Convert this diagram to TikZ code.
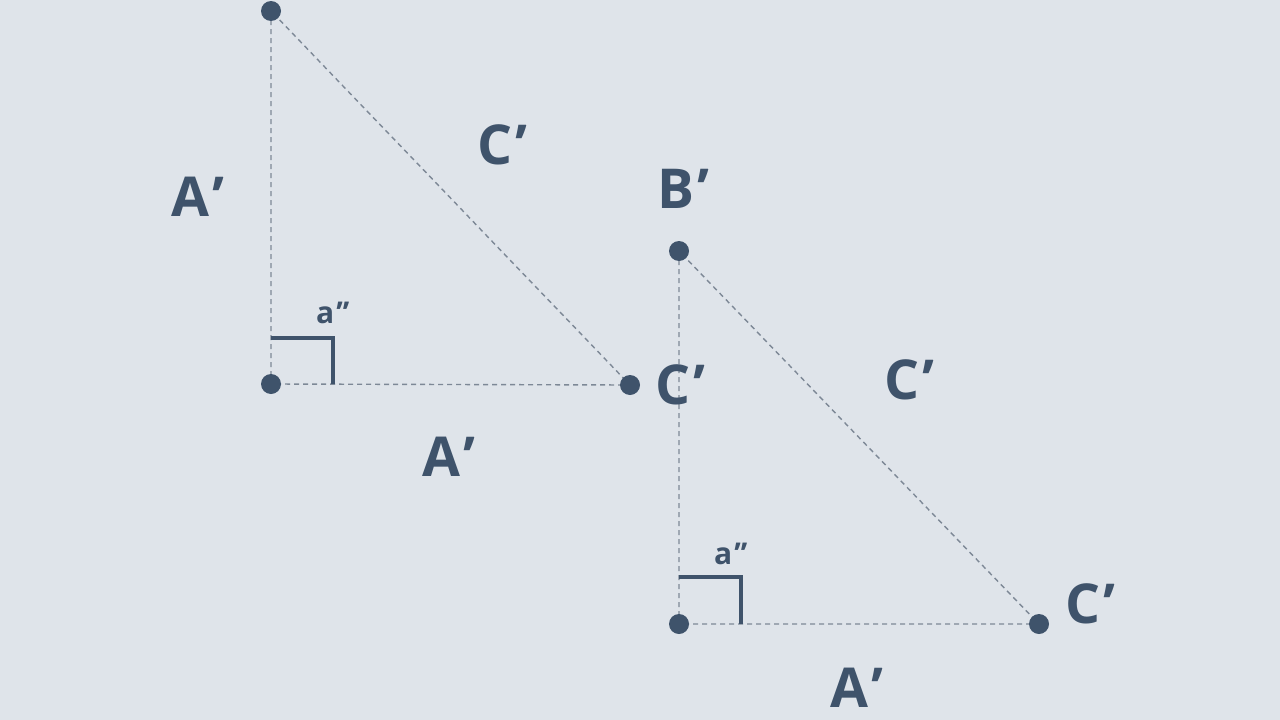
\documentclass[tikz,border=0pt]{standalone}
\usepackage{fontspec}
\setmainfont{Open Sans}
\definecolor{bg}{HTML}{DFE4EA}
\definecolor{ink}{HTML}{3F536B}
\definecolor{dashc}{HTML}{7D8896}
\newcommand{\ap}{\kern3pt’}
\begin{document}
\begin{tikzpicture}[x=1pt,y=-1pt,
  pt/.style={circle,fill=ink,inner sep=0pt,minimum size=20pt},
  side/.style={draw=dashc,line width=1.4pt,dash pattern=on 5pt off 4pt},
  rtmark/.style={draw=ink,line width=3.5pt},
  lbl/.style={text=ink,font=\fontsize{55}{55}\selectfont\bfseries,inner sep=0pt,anchor=west},
  small/.style={text=ink,font=\fontsize{30}{30}\selectfont\bfseries,inner sep=0pt,anchor=west}]
\fill[bg] (0,0) rectangle (1280,720);
\useasboundingbox (0,0) rectangle (1280,720);
% triangle 1
\coordinate (t1) at (271,11);
\coordinate (r1) at (271,384);
\coordinate (e1) at (630,385);
\draw[side] (t1) -- (r1) -- (e1) -- (t1);
\draw[rtmark] (271,338) -- (333,338) -- (333,384);
\node[pt] (T1) at (t1) {};
\node[pt] (R1) at (r1) {};
\node[pt] (E1) at (e1) {};
% triangle 2
\coordinate (t2) at (679,251);
\coordinate (r2) at (679,624);
\coordinate (e2) at (1039,624);
\draw[side] (t2) -- (r2) -- (e2) -- (t2);
\draw[rtmark] (679,577) -- (741,577) -- (741,624);
\node[pt] (T2) at (t2) {};
\node[pt] (R2) at (r2) {};
\node[pt] (E2) at (e2) {};
% labels
\node[lbl] (la1) at (171,197) {A\ap};
\node[lbl] (lc1) at (477,145) {C\ap};
\node[lbl] (lc2) at (655,385) {C\ap};
\node[lbl] (la2) at (422,457) {A\ap};
\node[small] (s1) at (316,313) {a\kern2pt’’};
\node[lbl] (lb) at (657,189) {B\ap};
\node[lbl] (lc3) at (884,380) {C\ap};
\node[lbl] (lc4) at (1065,604) {C\ap};
\node[lbl] (la3) at (830,688) {A\ap};
\node[small] (s2) at (714,554) {a\kern2pt’’};
\end{tikzpicture}
\end{document}
